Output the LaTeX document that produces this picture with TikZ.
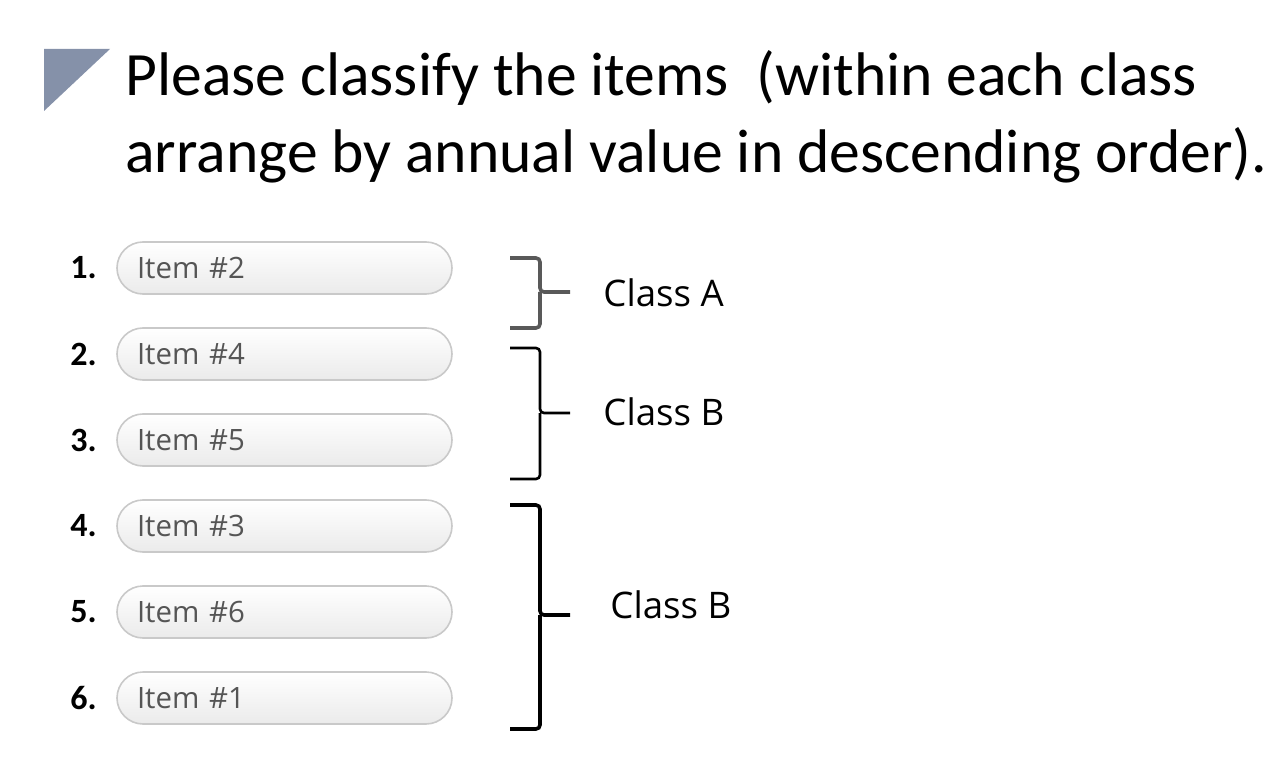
\documentclass[tikz,border=0pt]{standalone}
\usepackage{fontspec}
\setmainfont{Carlito}
\newfontfamily\opensans{Open Sans}
\usetikzlibrary{positioning}

\definecolor{corner}{HTML}{8591A9}
\definecolor{pillline}{HTML}{C9C9C9}
\definecolor{itemgray}{HTML}{555555}

\begin{document}
\begin{tikzpicture}[x=0.5pt,y=-0.5pt,node distance=43pt,on grid]
  \tikzstyle{head}=[anchor=base west, inner sep=0pt, font=\fontsize{30.8}{37}\selectfont]
  \tikzstyle{pill}=[draw=pillline, line width=0.8pt, rounded corners=13pt,
    minimum height=26pt, text width=147.5pt, inner xsep=10pt, align=left,
    top color=white, bottom color=black!8, text=itemgray,
    font=\opensans\fontsize{14.7}{17}\selectfont]
  \tikzstyle{num}=[inner sep=0pt, font=\bfseries\fontsize{17}{20}\selectfont]
  \tikzstyle{brack}=[line width=1.4pt, rounded corners=2pt]
  \tikzstyle{cls}=[inner sep=0pt, anchor=west, font=\opensans\fontsize{18.3}{21}\selectfont]
  \useasboundingbox (0,0) rectangle (1280,770);
  % heading
  \fill[corner] (44,49) -- (110,49) -- (44,111) -- cycle;
  \node[head] (title1) at (125,96) {Please classify the items~ (within each class};
  \node[head] (title2) at (125,173) {arrange by annual value in descending order).};
  % items
  \node[pill] (i1) at (284.5,268) {Item \#2};
  \node[pill] (i2) [below=of i1] {Item \#4};
  \node[pill] (i3) [below=of i2] {Item \#5};
  \node[pill] (i4) [below=of i3] {Item \#3};
  \node[pill] (i5) [below=of i4] {Item \#6};
  \node[pill] (i6) [below=of i5] {Item \#1};
  \node[num, on grid=false, left=9.5pt of i1] (n1) {1.};
  \node[num, on grid=false, left=9.5pt of i2] (n2) {2.};
  \node[num, on grid=false, left=9.5pt of i3] (n3) {3.};
  \node[num, on grid=false, left=9.5pt of i4] (n4) {4.};
  \node[num, on grid=false, left=9.5pt of i5] (n5) {5.};
  \node[num, on grid=false, left=9.5pt of i6] (n6) {6.};
  % brackets
  \coordinate (ta) at (570,292);
  \coordinate (tb) at (570,413);
  \coordinate (tc) at (570,615);
  \draw[brack, black!65, line width=1.8pt] (510,258) -- (540,258) -- (540,292) -- (ta)
                         (540,292) -- (540,328) -- (510,328);
  \draw[brack, line width=1.3pt] (510,348) -- (540,348) -- (540,413) -- (tb)
                                 (540,413) -- (540,479) -- (510,479);
  \draw[brack, line width=1.8pt] (510,505) -- (540,505) -- (540,615) -- (tc)
                                 (540,615) -- (540,729) -- (510,729);
  \node[cls] (ca) at (603,293) {Class A};
  \node[cls] (cb) at (603,412) {Class B};
  \node[cls] (cc) at (610,605) {Class B};
\end{tikzpicture}
\end{document}
